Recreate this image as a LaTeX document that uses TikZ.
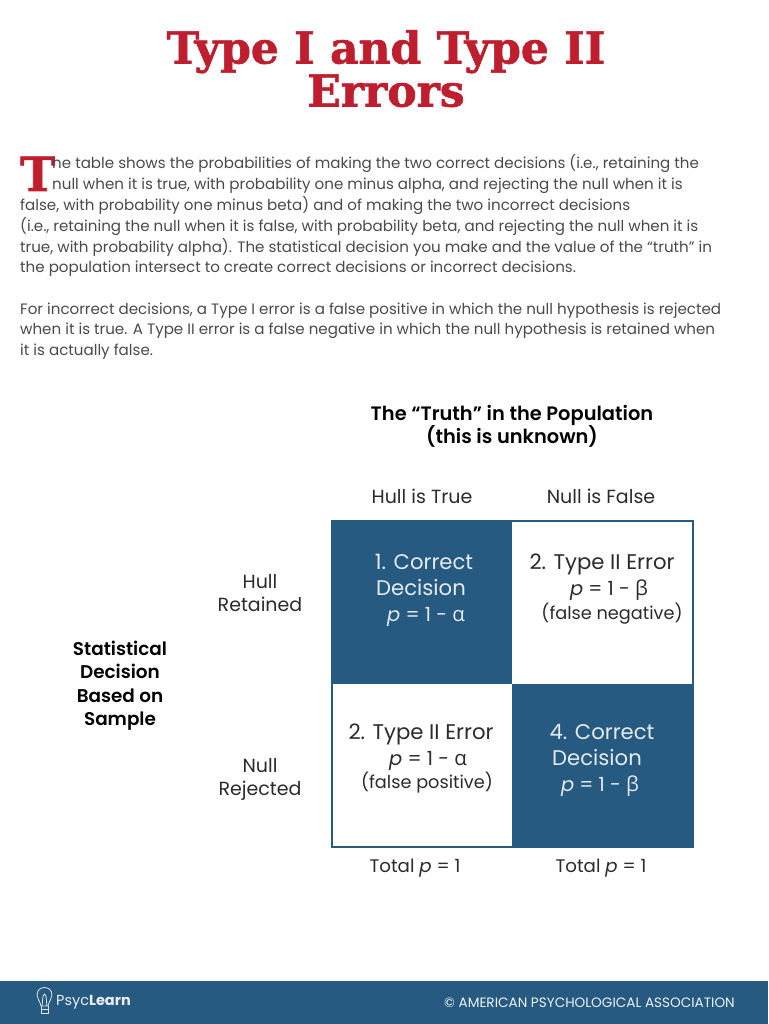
\documentclass[tikz,border=0pt]{standalone}
\usepackage{fontspec}
\setmainfont{Poppins}
\newfontfamily\gk{Open Sans}
\newfontfamily\pmed{Poppins}[UprightFont={* SemiBold}]
\newfontfamily\slab{DejaVu Serif Bold}[FakeBold=1.4]
\definecolor{apablue}{HTML}{265A80}
\definecolor{apared}{HTML}{BE1E2D}
\definecolor{bodyg}{HTML}{4A4A4A}
\definecolor{ink}{HTML}{2B2B2B}
\newcommand{\pv}{\textit{p}}
\newcommand{\al}{{\gk\fontsize{20.5}{23}\selectfont α}}
\newcommand{\be}{{\gk\fontsize{20.5}{23}\selectfont β}}
\tikzset{
 x=1pt,y=-1pt,
 ttl/.style={font=\slab\fontsize{44}{44}\selectfont,text=apared,inner sep=0pt,anchor=base},
 bodyline/.style={font=\fontsize{15.1}{18}\selectfont,text=bodyg,inner sep=0pt,anchor=base west},
 lab/.style={font=\fontsize{19}{23}\selectfont,text=ink,inner sep=0pt,anchor=base},
 totlab/.style={font=\fontsize{18.2}{23}\selectfont,text=ink,inner sep=0pt,anchor=base},
 blab/.style={font=\pmed\fontsize{18.4}{23}\selectfont,text=black,inner sep=0pt,anchor=base},
 hlab/.style={font=\pmed\fontsize{19.4}{23}\selectfont,text=black,inner sep=0pt,anchor=base},
 cellt/.style={font=\fontsize{21.2}{26}\selectfont,inner sep=0pt,anchor=base},
 cellp/.style={font=\fontsize{19.5}{23}\selectfont,inner sep=0pt,anchor=base},
 cellsmall/.style={font=\fontsize{17.7}{23}\selectfont,inner sep=0pt,anchor=base},
 dark/.style={text=white!88!apablue},
 light/.style={text=ink},
 cellbox/.style={minimum width=181pt,minimum height=163pt,inner sep=0pt,draw=none},
}
\begin{document}
\begin{tikzpicture}
\useasboundingbox (0,0) rectangle (768,1024);
\fill[white] (0,0) rectangle (768,1024);
\node[ttl] (t1) at (386,63.5) {Type I and Type II};
\node[ttl] (t2) at (386,106.5) {Errors};
\node[font=\slab\fontsize{47}{47}\selectfont,text=apared,inner sep=0pt,anchor=base west] (cap) at (20,191) {T};
\node[bodyline] (l1) at (52,169) {he table shows the probabilities of making the two correct decisions (i.e., retaining the};
\node[bodyline] (l2) at (52,190) {null when it is true, with probability one minus alpha, and rejecting the null when it is};
\node[bodyline] (l3) at (20,211) {false, with probability one minus beta) and of making the two incorrect decisions};
\node[bodyline] (l4) at (20,232) {(i.e., retaining the null when it is false, with probability beta, and rejecting the null when it is};
\node[bodyline] (l5) at (20,252) {true, with probability alpha). The statistical decision you make and the value of the “truth” in};
\node[bodyline] (l6) at (20,272) {the population intersect to create correct decisions or incorrect decisions.};
\node[bodyline] (l7) at (20,314) {For incorrect decisions, a Type I error is a false positive in which the null hypothesis is rejected};
\node[bodyline] (l8) at (20,334) {when it is true. A Type II error is a false negative in which the null hypothesis is retained when};
\node[bodyline] (l9) at (20,355) {it is actually false.};
\node[hlab] (h1) at (512,420) {The “Truth” in the Population};
\node[hlab] (h2) at (512,443) {(this is unknown)};
\node[lab] (c1) at (422,503) {Hull is True};
\node[lab] (c2) at (601,503) {Null is False};
\node[lab] (r1a) at (260,588) {Hull};
\node[lab] (r1b) at (260,611) {Retained};
\node[lab] (r2a) at (260,772) {Null};
\node[lab] (r2b) at (260,795) {Rejected};
\node[blab] (s1) at (120,655) {Statistical};
\node[blab] (s2) at (120,678) {Decision};
\node[blab] (s3) at (120,702) {Based on};
\node[blab] (s4) at (120,725) {Sample};
% matrix
\node[cellbox,fill=apablue,anchor=north west] (a) at (331.5,521) {};
\node[cellbox,fill=white,anchor=north west] (b) at (512,521) {};
\node[cellbox,fill=white,anchor=north west] (c) at (331.5,683.5) {};
\node[cellbox,fill=apablue,anchor=north west] (d) at (512,683.5) {};
\draw[apablue,line width=2pt] (a.north west) rectangle (d.south east);
\node[cellt,dark] (a1) at (424,569) {1. Correct};
\node[cellt,dark] (a2) at (421,595) {Decision};
\node[cellp,dark] (a3) at (426,621) {\pv{} = 1 - \al};
\node[cellt,light] (b1) at (602,569) {2. Type II Error};
\node[cellp,light] (b2) at (609,595) {\pv{} = 1 - \be};
\node[cellsmall,light] (b3) at (612,619) {(false negative)};
\node[cellt,light] (c1a) at (421,739) {2. Type II Error};
\node[cellp,light] (c2a) at (428,765) {\pv{} = 1 - \al};
\node[cellsmall,light] (c3a) at (427,788) {(false positive)};
\node[cellt,dark] (d1) at (602,739) {4. Correct};
\node[cellt,dark] (d2) at (597,765) {Decision};
\node[cellp,dark] (d3) at (600,791) {\pv{} = 1 - \be};
\node[totlab] (tot1) at (415,872) {Total \pv{} = 1};
\node[totlab] (tot2) at (601,872) {Total \pv{} = 1};
% footer
\fill[apablue] (0,981) rectangle (768,1024);
\begin{scope}[draw=white!85!apablue,line width=.8pt]
\draw (41,1006) .. controls (40,1001) and (37,999) .. (37,995) .. controls (37,985) and (52,985) .. (52,995) .. controls (52,999) and (49,1001) .. (48,1006) -- cycle;
\draw (41,1006) -- (41,1013) -- (48,1013) -- (48,1006);
\draw (41,1009.5) -- (48,1009.5);
\draw (42,1006) -- (43,996) (47,1006) -- (46,996) (43,996) -- (44.5,994) -- (46,996);
\end{scope}
\node[font=\fontsize{14.5}{18}\selectfont,text=white!90!apablue,inner sep=0pt,anchor=base west] (logo) at (56,1005) {Psyc\textbf{Learn}};
\node[font=\fontsize{13.6}{16}\selectfont,text=white!92!apablue,inner sep=0pt,anchor=base east] (copy) at (735,1007) {© AMERICAN PSYCHOLOGICAL ASSOCIATION};
\end{tikzpicture}
\end{document}
